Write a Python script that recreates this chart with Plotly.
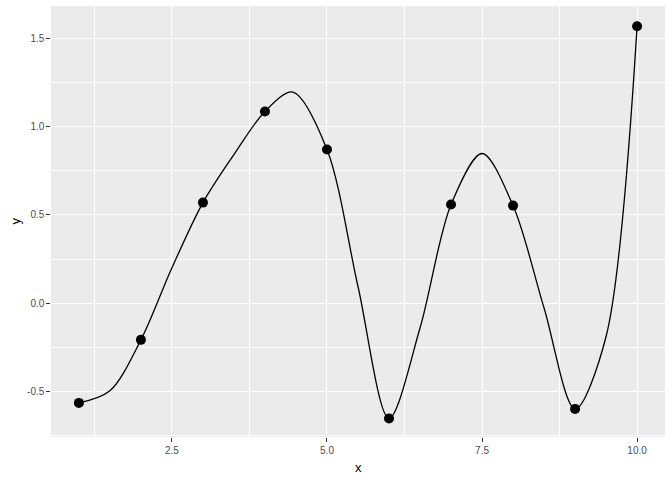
import plotly.graph_objects as go

# observed data points
x_vals = [1, 2, 3, 4, 5, 6, 7, 8, 9, 10]
y_vals = [-0.564, -0.207, 0.570, 1.086, 0.871, -0.652, 0.559, 0.553, -0.598, 1.568]

# interpolating curve
curve_x = [1, 1.5, 2, 2.5, 3, 3.5, 4, 4.45, 5, 5.5, 6, 6.5, 7, 7.5, 8, 8.5, 9, 9.5, 10]
curve_y = [-0.564, -0.495, -0.207, 0.201, 0.570, 0.842, 1.086, 1.196, 0.871, 0.095,
           -0.652, -0.140, 0.559, 0.848, 0.553, -0.027, -0.598, -0.188, 1.568]

x_ticks = [2.5, 5.0, 7.5, 10.0]
x_tick_labels = ["2.5", "5.0", "7.5", "10.0"]
y_ticks = [-0.5, 0.0, 0.5, 1.0, 1.5]
y_tick_labels = ["-0.5", "0.0", "0.5", "1.0", "1.5"]
x_title = "x"
y_title = "y"

FONT = "Liberation Sans, Arial, sans-serif"

fig = go.Figure()
fig.add_trace(go.Scatter(x=curve_x, y=curve_y, mode="lines",
                         line=dict(color="black", width=1.3, shape="spline", smoothing=0.9),
                         hoverinfo="skip", showlegend=False))
fig.add_trace(go.Scatter(x=x_vals, y=y_vals, mode="markers",
                         marker=dict(color="black", size=10),
                         showlegend=False))

axis_common = dict(
    showgrid=True, gridcolor="white", gridwidth=1.1,
    zeroline=False, showline=False, automargin=False,
    ticks="outside", ticklen=3.7, tickwidth=1.1, tickcolor="#333333",
    tickfont=dict(family=FONT, size=10, color="#4D4D4D"),
)

fig.update_layout(
    width=672, height=480,
    margin=dict(l=51, r=7, t=6, b=43),
    paper_bgcolor="white", plot_bgcolor="#EBEBEB",
    xaxis=dict(range=[0.55, 10.45], tickvals=x_ticks, ticktext=x_tick_labels,
               minor=dict(tickvals=[1.25, 3.75, 6.25, 8.75], showgrid=True, gridcolor="white", gridwidth=0.55, ticks=""),
               **axis_common),
    yaxis=dict(range=[-0.757, 1.683], tickvals=y_ticks, ticktext=y_tick_labels,
               minor=dict(tickvals=[-0.75, -0.25, 0.25, 0.75, 1.25], showgrid=True, gridcolor="white", gridwidth=0.55, ticks=""),
               **axis_common),
    annotations=[
        dict(text=x_title, xref="paper", yref="paper", x=0.5, y=0, xanchor="center", yanchor="middle",
             yshift=-30, showarrow=False, font=dict(family=FONT, size=13, color="black")),
        dict(text=y_title, xref="paper", yref="paper", x=0, y=0.5, xanchor="center", yanchor="middle",
             xshift=-36, textangle=-90, showarrow=False, font=dict(family=FONT, size=13, color="black")),
    ],
)

fig.write_html("out.html", config={"displayModeBar": False},
               post_script="document.body.style.margin='0px';document.body.style.overflow='hidden';")
